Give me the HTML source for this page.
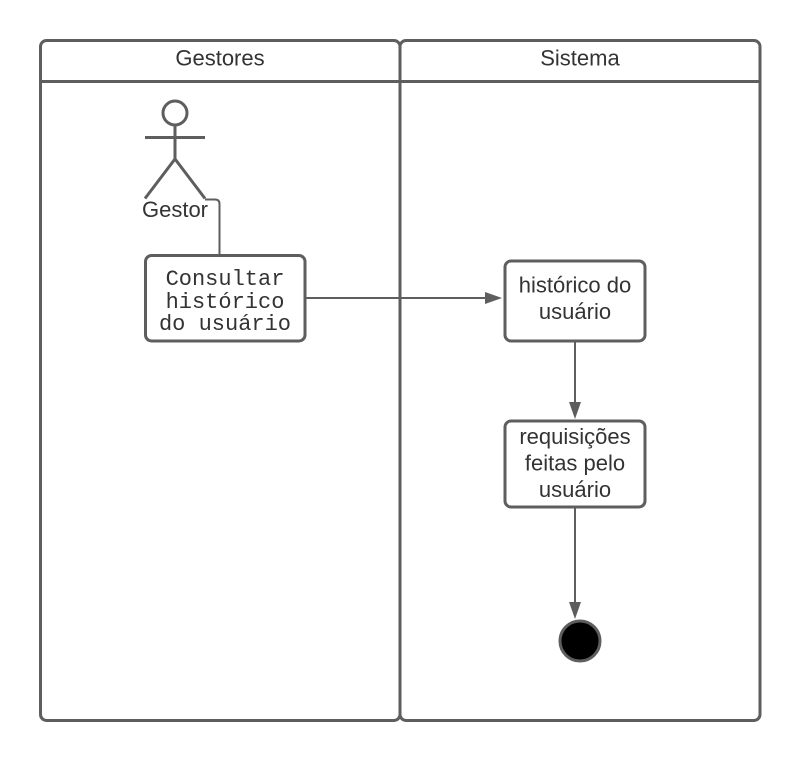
<!DOCTYPE html>
<html>
<head>
<meta charset="utf-8">
<style>
html,body{margin:0;padding:0;background:#fff;}
svg{display:block;}
text{fill:#333;}
.s{font-family:"Liberation Sans",sans-serif;font-size:22px;text-anchor:middle;}
.m{font-family:"Liberation Mono",monospace;font-size:22px;text-anchor:middle;}
</style>
</head>
<body>
<svg width="800" height="761" viewBox="0 0 800 761" xmlns="http://www.w3.org/2000/svg">
<rect width="800" height="761" fill="#fff"/>
<g fill="none" stroke="#5e5e5e" stroke-width="3">
  <rect x="40.5" y="40.5" width="359.500" height="680" rx="6"/>
  <rect x="400" y="40.500" width="360" height="680" rx="6"/>
  <line x1="40" y1="81.500" x2="760" y2="81.500"/>
  <circle cx="175" cy="113" r="12"/>
  <line x1="145" y1="137.500" x2="205" y2="137.500"/>
  <line x1="175" y1="125" x2="175" y2="159"/>
  <path d="M145 198.500 L175 159 L205 198.500"/>
  <rect x="145.500" y="255.500" width="159.500" height="85.500" rx="6"/>
  <rect x="505" y="261" width="140" height="80" rx="6"/>
  <rect x="505" y="421" width="140" height="86" rx="6"/>
  <circle cx="580" cy="641" r="20" fill="#000"/>
</g>
<g fill="none" stroke="#5e5e5e" stroke-width="2">
  <path d="M205 199.500 H215 Q219.500 199.500 219.500 204 V254"/>
  <line x1="306" y1="298" x2="487" y2="298"/>
  <line x1="575" y1="342" x2="575" y2="404"/>
  <line x1="575" y1="508" x2="575" y2="603"/>
</g>
<g fill="#5e5e5e">
  <path d="M485 292 L502 298 L485 304 Z"/>
  <path d="M569 402 L575 419 L581 402 Z"/>
  <path d="M569 602 L575 619 L581 602 Z"/>
</g>
<text class="s" x="220" y="65.500">Gestores</text>
<text class="s" x="580" y="65.500">Sistema</text>
<text class="s" x="175" y="217">Gestor</text>
<text class="m" x="225" y="285">Consultar</text>
<text class="m" x="225" y="308">histórico</text>
<text class="m" x="225" y="330">do usuário</text>
<text class="s" x="575" y="292.500">histórico do</text>
<text class="s" x="575" y="319">usuário</text>
<text class="s" x="575" y="444">requisições</text>
<text class="s" x="575" y="470.500">feitas pelo</text>
<text class="s" x="575" y="497">usuário</text>
</svg>
</body>
</html>
